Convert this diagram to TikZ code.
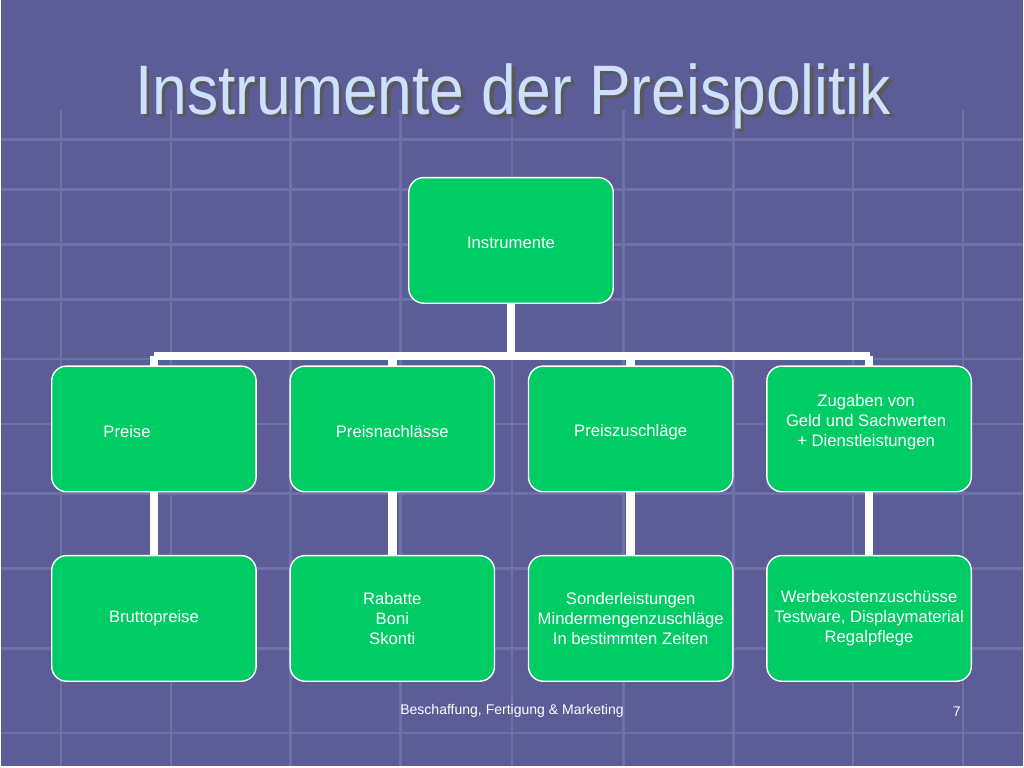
\documentclass[tikz,border=0pt]{standalone}
\usepackage{fontspec}
\setmainfont{Liberation Sans}
\usetikzlibrary{positioning}
\definecolor{bgblue}{RGB}{92,92,150}
\definecolor{gridblue}{RGB}{112,112,168}
\definecolor{boxgreen}{RGB}{0,204,102}
\definecolor{titleblue}{RGB}{205,225,255}
\tikzset{
  box/.style={draw=white, line width=0.8pt, fill=boxgreen, rounded corners=0.3cm,
    minimum width=4.1cm, minimum height=2.52cm, align=center, text=white,
    font=\fontsize{9.5}{11.5}\selectfont},
  link/.style={draw=white, line width=2.4pt, double=white, double distance=0pt},
  shade/.style={draw=gray!70, line width=3.6pt},
  label/.style={text=white, align=center, font=\fontsize{9.5}{11.5}\selectfont}
}
\begin{document}
\begin{tikzpicture}[x=0.02cm, y=-0.02cm]
  % background
  \fill[bgblue] (0,0) rectangle (1024,768);
  \foreach \y in {140,190,245,300,360,425,495,570,650,735}
    \draw[gridblue, line width=1.5pt] (0,\y) -- (1024,\y);
  \foreach \x in {60,170,290,400,512,624,734,854,964}
    \draw[gridblue, line width=1.5pt] (\x,110) -- (\x,768);
  \useasboundingbox (0,0) rectangle (1024,768);

  % title with shadow
  \node[text=titleblue, xscale=0.89, font=\fontsize{40}{48}\selectfont] (title) at (513,97)
    {\makebox[0pt][l]{\raisebox{-0.05cm}[0pt][0pt]{\hspace{0.08cm}\textcolor{black!65}{Instrumente der Preispolitik}}}Instrumente der Preispolitik};

  % connectors (drawn first, boxes on top)
  \coordinate (hl) at (153,357);
  \coordinate (hr) at (871,357);
  \foreach \s in {shade, link} {
    \draw[\s] (511,300) -- (511,357);
    \draw[\s] (hl) -- (hr);
    \foreach \x in {153,392,631,870} {
      \draw[\s] (\x,357) -- (\x,370);
      \draw[\s] (\x,490) -- (\x,560);
    }
  }

  % boxes
  \node[box] (inst) at (511,241) {};
  \node[box] (preise) at (153,430) {};
  \node[box] (nachl) at (392,430) {};
  \node[box] (zuschl) at (631,430) {};
  \node[box] (zugaben) at (870,430) {};
  \node[box] (brutto) at (153,620) {Bruttopreise};
  \node[box] (rabatt) at (392,620) {Rabatte\\Boni\\Skonti};
  \node[box] (sonder) at (631,620) {Sonderleistungen\\Mindermengenzuschläge\\In bestimmten Zeiten};
  \node[box] (werbe) at (870,620) {Werbekostenzuschüsse\\Testware, Displaymaterial\\Regalpflege};

  % texts in the upper boxes
  \node[label] at (511,243) {Instrumente};
  \node[label] at (126,433) {Preise};
  \node[label] at (392,433) {Preisnachlässe};
  \node[label] at (631,433) {Preiszuschläge};
  \node[label] at (867,423) {Zugaben von\\Geld und Sachwerten\\+ Dienstleistungen};

  % footer
  \node[text=white, font=\fontsize{8}{9}\selectfont] (foot) at (512,713) {Beschaffung, Fertigung \& Marketing};
  \node[text=white, font=\fontsize{8}{9}\selectfont] (page) at (958,713) {7};
\end{tikzpicture}
\end{document}
